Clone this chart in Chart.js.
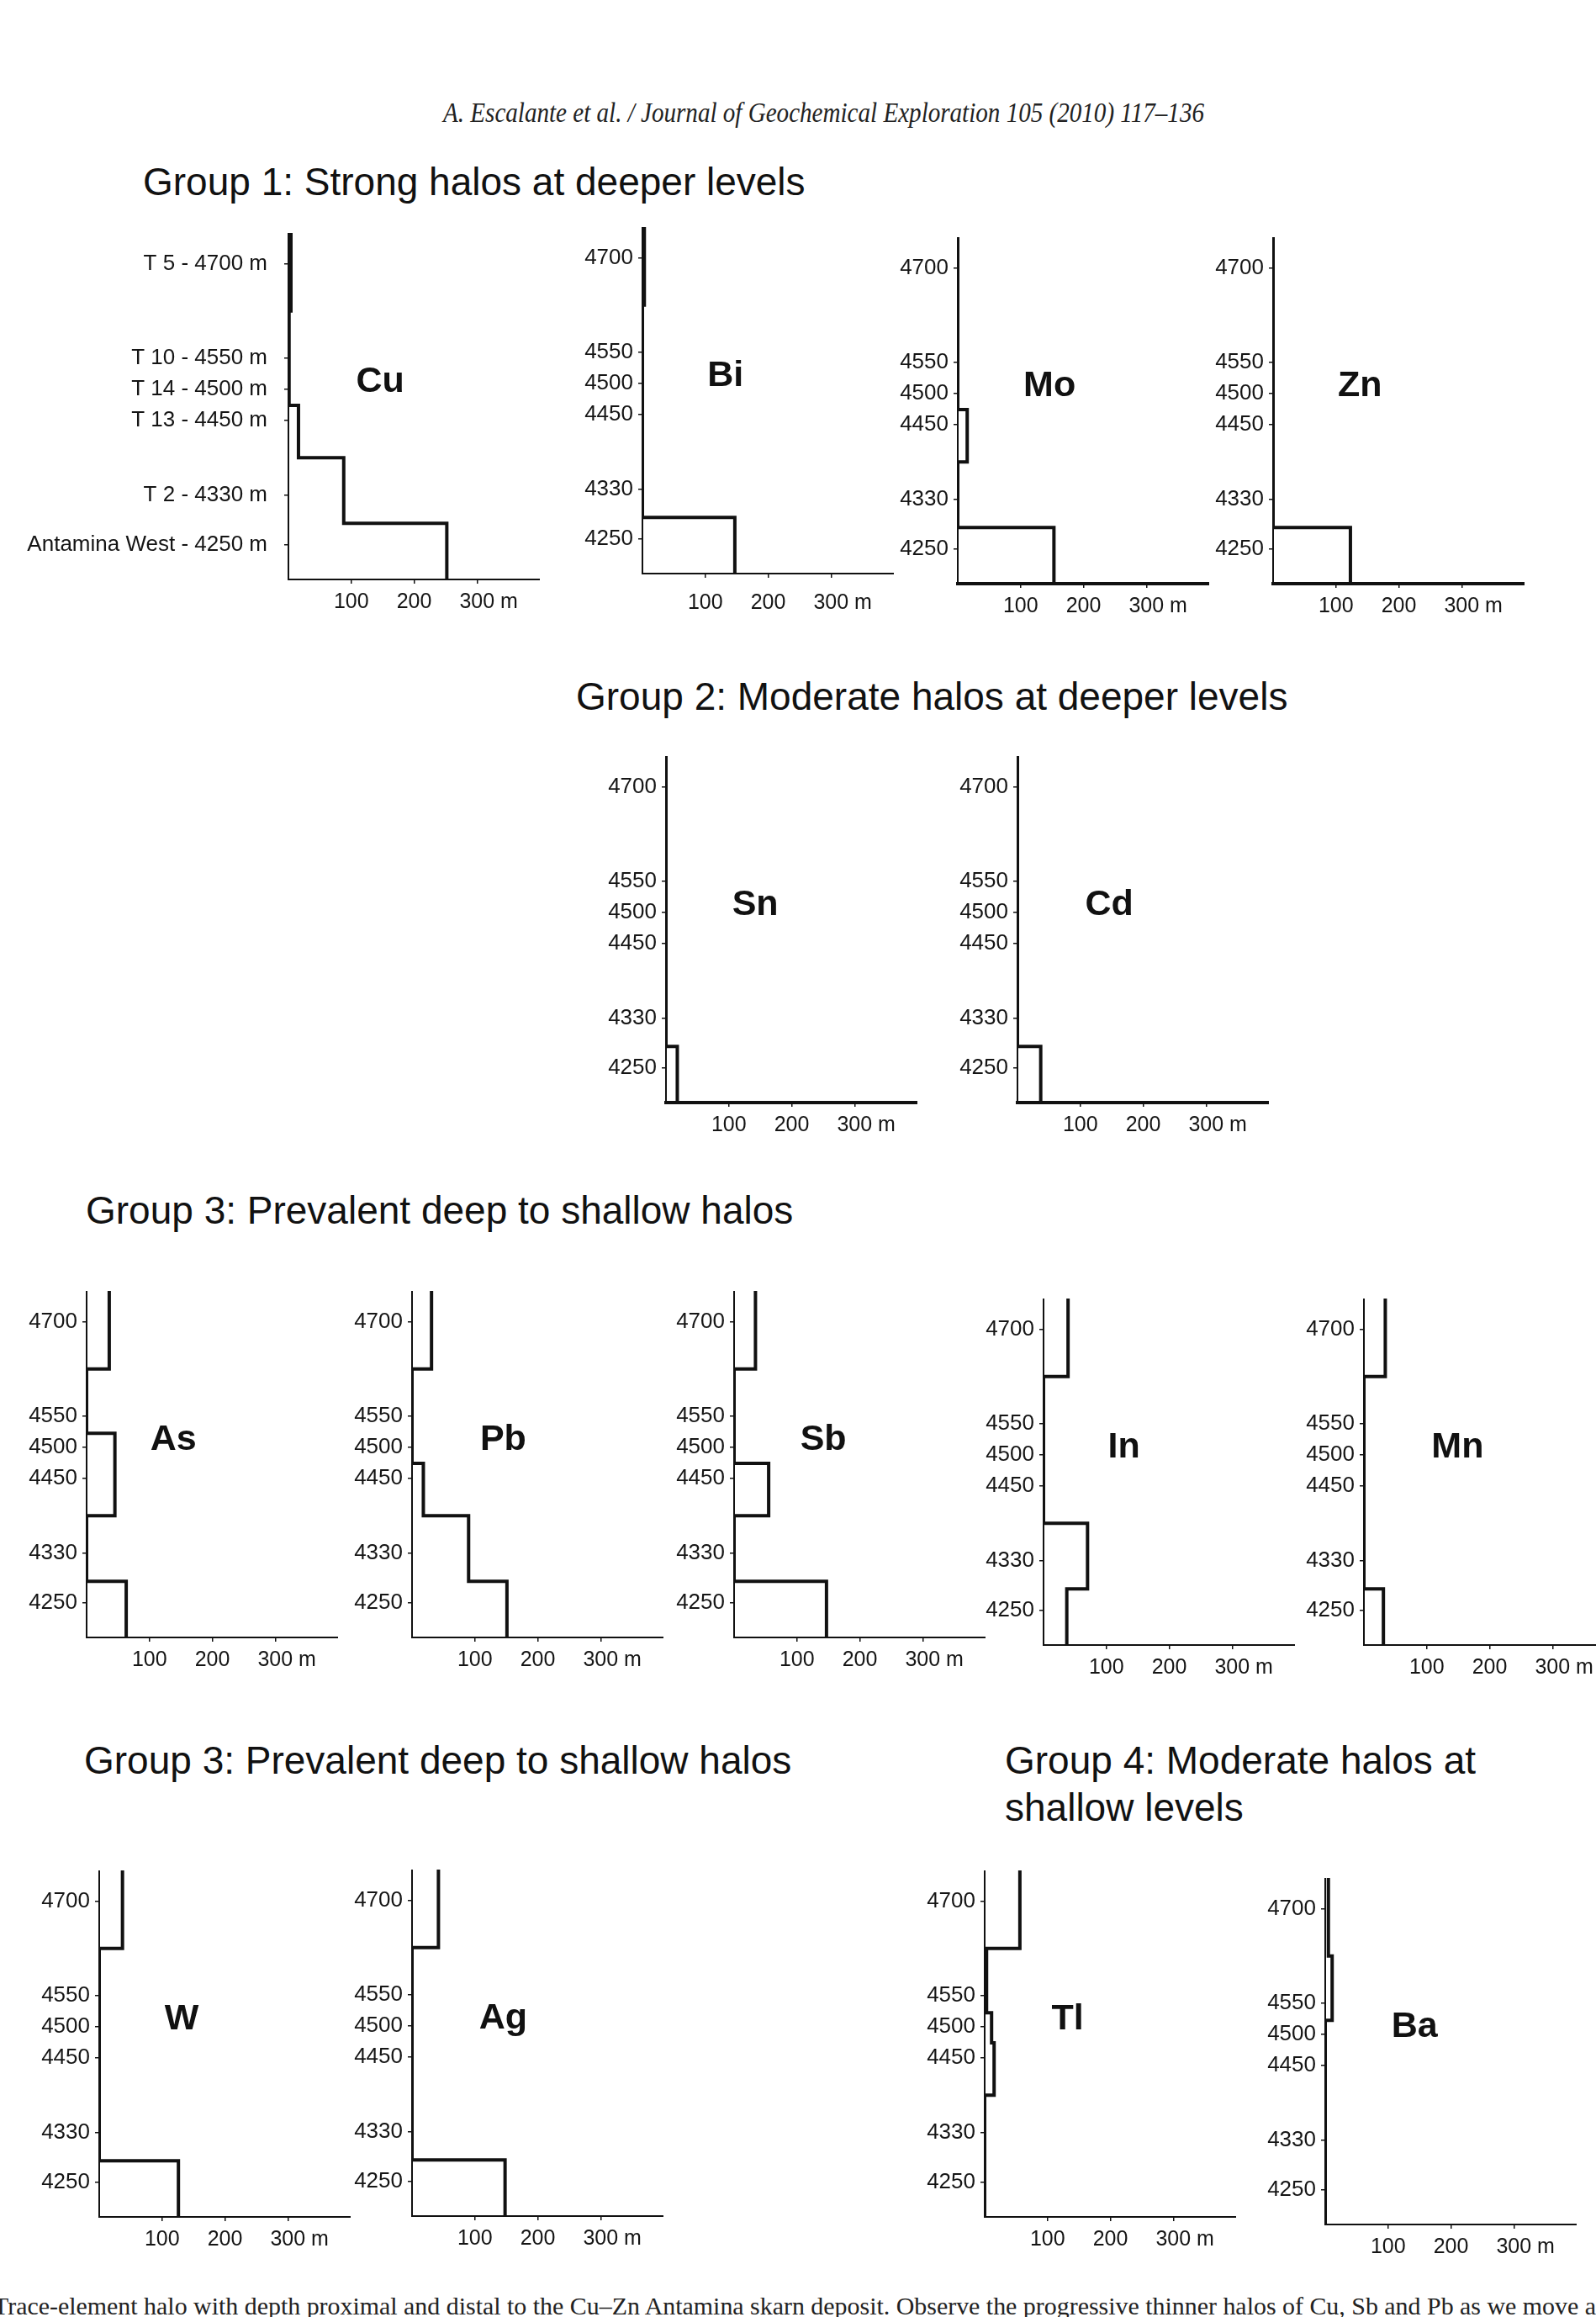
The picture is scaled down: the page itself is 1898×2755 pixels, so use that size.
<!DOCTYPE html>
<html>
<head>
<meta charset="utf-8">
<script src="https://cdn.jsdelivr.net/npm/chart.js@4.4.0/dist/chart.umd.min.js"></script>
<style>
    html, body { margin: 0; padding: 0; background: #fff; }
    body {
        width: 1898px; height: 2755px; position: relative; overflow: hidden;
        font-family: 'Liberation Sans', Arial, sans-serif; color: #111;
    }
    canvas { position: absolute; }
    .title { position: absolute; font-size: 46px; line-height: 46px; white-space: nowrap; }
    .running-head {
        position: absolute; left: 527px; top: 118px; white-space: nowrap;
        font-family: 'Liberation Serif', serif; font-style: italic;
        font-size: 33px; line-height: 33px; transform-origin: 0 0; color: #222;
    }
    .caption {
        position: absolute; left: -8px; top: 2727px; white-space: nowrap;
        font-family: 'Liberation Serif', serif; font-size: 30px; line-height: 30px;
        transform-origin: 0 0; color: #222;
    }
</style>
</head>
<body>

<div class="running-head" data-fit="905">A. Escalante et al. / Journal of Geochemical Exploration 105 (2010) 117–136</div>

<div class="title" style="left:170px; top:193px">Group 1: Strong halos at deeper levels</div>
<div class="title" style="left:685px; top:805px">Group 2: Moderate halos at deeper levels</div>
<div class="title" style="left:102px; top:1416px">Group 3: Prevalent deep to shallow halos</div>
<div class="title" style="left:100px; top:2070px">Group 3: Prevalent deep to shallow halos</div>
<div class="title" style="left:1195px; top:2070px">Group 4: Moderate halos at</div>
<div class="title" style="left:1195px; top:2126px">shallow levels</div>

<div class="caption" data-fit="1906">Trace-element halo with depth proximal and distal to the Cu–Zn Antamina skarn deposit. Observe the progressive thinner halos of Cu, Sb and Pb as we move a</div>

<script>
// Sampling levels (m a.s.l.) and the depth limits of each level's interval
const levels = [4700, 4550, 4500, 4450, 4330, 4250];
const levelBounds = [4750, 4625, 4522, 4474, 4390, 4285, 4195];
const xTicks = [100, 200, 300];
const cuLevelLabels = ['T 5 - 4700 m', 'T 10 - 4550 m', 'T 14 - 4500 m', 'T 13 - 4450 m', 'T 2 - 4330 m', 'Antamina West - 4250 m'];

// Halo width (m) at each level, top to bottom
const cu = [4, 1, 1, 16, 88, 252];
const bi = [3, 0, 0, 0, 0, 147];
const mo = [0, 0, 0, 15, 0, 153];
const zn = [0, 0, 0, 0, 0, 123];
const sn = [0, 0, 0, 0, 0, 18];
const cd = [0, 0, 0, 0, 0, 37];
const asHalo = [36, 0, 45, 45, 0, 63];
const pb = [31, 0, 0, 18, 90, 151];
const sb = [34, 0, 0, 55, 0, 147];
const inHalo = [39, 0, 0, 0, 70, 37];
const mn = [34, 0, 0, 0, 0, 31];
const w = [37, 0, 0, 0, 0, 126];
const ag = [42, 0, 0, 0, 0, 148];
const tl = [56, 3, 11, 15, 0, 0];
const ba = [5, 11, 0, 0, 0, 0];

// Page layout of each panel (axis origin in page pixels)
const PLOT_W = 299;
const PLOT_H = 412;
const X_AXIS_H = 56;
const X_MAX = 400;
const Y_MIN = 4195;
const Y_MAX = 4750;

const panels = [
    { name: 'Cu', halo: cu, axisX: 343, y4700: 314, labelX: 146, yAxisW: 330, pad: 20, labels: cuLevelLabels },
    { name: 'Bi', halo: bi, axisX: 764, y4700: 307, labelX: 132, xPad: 15 },
    { name: 'Mo', halo: mo, axisX: 1139, y4700: 319, labelX: 146, bottom: 4 },
    { name: 'Zn', halo: zn, axisX: 1514, y4700: 319, labelX: 138, bottom: 4 },
    { name: 'Sn', halo: sn, axisX: 792, y4700: 936, labelX: 142, bottom: 4 },
    { name: 'Cd', halo: cd, axisX: 1210, y4700: 936, labelX: 146, bottom: 4 },
    { name: 'As', halo: asHalo, axisX: 103, y4700: 1572, labelX: 138 },
    { name: 'Pb', halo: pb, axisX: 490, y4700: 1572, labelX: 145 },
    { name: 'Sb', halo: sb, axisX: 873, y4700: 1572, labelX: 142 },
    { name: 'In', halo: inHalo, axisX: 1241, y4700: 1581, labelX: 128 },
    { name: 'Mn', halo: mn, axisX: 1622, y4700: 1581, labelX: 149 },
    { name: 'W', halo: w, axisX: 118, y4700: 2261, labelX: 131 },
    { name: 'Ag', halo: ag, axisX: 490, y4700: 2260, labelX: 145 },
    { name: 'Tl', halo: tl, axisX: 1171, y4700: 2261, labelX: 132 },
    { name: 'Ba', halo: ba, axisX: 1576, y4700: 2270, labelX: 142 }
];

Chart.defaults.font.family = "'Liberation Sans', Arial, sans-serif";
Chart.defaults.color = '#151515';

// Element symbol written inside the plot
const elementLabel = {
    id: 'elementLabel',
    afterDatasetsDraw(chart, args, opts) {
        const { ctx, scales: { x, y } } = chart;
        ctx.save();
        ctx.font = 'bold 43px "Liberation Sans", Arial, sans-serif';
        ctx.fillStyle = '#111';
        ctx.textAlign = 'center';
        ctx.textBaseline = 'middle';
        ctx.fillText(opts.text, x.getPixelForValue(opts.x), y.getPixelForValue(opts.y));
        ctx.restore();
    }
};

// Step outline: each level is a vertical stretch at its halo width
function haloPoints(widths) {
    const pts = [];
    widths.forEach((wd, i) => {
        pts.push({ x: wd, y: levelBounds[i] });
        pts.push({ x: wd, y: levelBounds[i + 1] });
    });
    return pts;
}

// fixed axis sizes, and no extra room kept for half labels at the ends
function fixAxis(size, horizontal) {
    return (scale) => {
        if (horizontal) scale.height = size; else scale.width = size;
        scale.paddingTop = 0;
        scale.paddingBottom = 0;
        scale.paddingLeft = 0;
        scale.paddingRight = 0;
    };
}

function drawPanel(p) {
    const yAxisW = p.yAxisW || 110;
    const canvas = document.createElement('canvas');
    canvas.width = yAxisW + PLOT_W;
    canvas.height = PLOT_H + X_AXIS_H;
    canvas.style.left = (p.axisX - yAxisW) + 'px';
    canvas.style.top = Math.round(p.y4700 - (Y_MAX - 4700) * PLOT_H / (Y_MAX - Y_MIN)) + 'px';
    document.body.appendChild(canvas);

    new Chart(canvas, {
        type: 'scatter',
        data: {
            datasets: [{
                data: haloPoints(p.halo),
                showLine: true,
                borderColor: '#111',
                borderWidth: 4,
                borderJoinStyle: 'miter',
                pointRadius: 0,
                fill: false
            }]
        },
        options: {
            responsive: false,
            animation: false,
            events: [],
            layout: { padding: 0 },
            plugins: {
                legend: { display: false },
                tooltip: { enabled: false },
                elementLabel: { text: p.name, x: p.labelX, y: 4511 }
            },
            scales: {
                x: {
                    type: 'linear',
                    min: 0,
                    max: X_MAX,
                    afterBuildTicks: (scale) => { scale.ticks = xTicks.map(v => ({ value: v })); },
                    afterFit: fixAxis(X_AXIS_H, true),
                    border: { display: true, color: '#111', width: p.bottom || 2 },
                    grid: { drawOnChartArea: false, drawTicks: true, tickLength: 5, color: '#111', lineWidth: 1.5 },
                    ticks: {
                        autoSkip: false,
                        maxRotation: 0,
                        padding: p.xPad || 7,
                        font: { size: 25 },
                        callback: (v) => v === 300 ? '    300 m' : String(v)
                    }
                },
                y: {
                    type: 'linear',
                    min: Y_MIN,
                    max: Y_MAX,
                    afterBuildTicks: (scale) => { scale.ticks = levels.map(v => ({ value: v })); },
                    afterFit: fixAxis(yAxisW, false),
                    border: { display: true, color: '#111', width: 2 },
                    grid: { drawOnChartArea: false, drawTicks: true, tickLength: 5, color: '#111', lineWidth: 1.5 },
                    ticks: {
                        autoSkip: false,
                        padding: p.pad || 6,
                        font: { size: 26 },
                        callback: (v) => p.labels ? p.labels[levels.indexOf(v)] : String(v)
                    }
                }
            }
        },
        plugins: [elementLabel]
    });
}

// Squeeze the serif lines to the width they take in the printed page
function fitText() {
    document.querySelectorAll('[data-fit]').forEach(el => {
        const target = Number(el.dataset.fit);
        const actual = el.getBoundingClientRect().width;
        el.style.transform = `scaleX(${target / actual})`;
    });
}

fitText();
panels.forEach(drawPanel);
</script>
</body>
</html>
